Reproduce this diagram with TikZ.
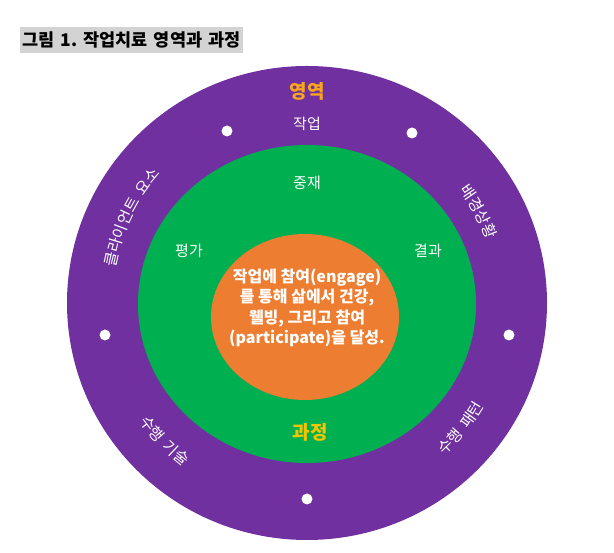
\documentclass[tikz,border=0pt]{standalone}
\usepackage{fontspec}
\setmainfont{Noto Sans CJK KR}
\usetikzlibrary{decorations.text}
\definecolor{ringpurple}{RGB}{112,48,160}
\definecolor{ringgreen}{RGB}{0,176,80}
\definecolor{coreorange}{RGB}{237,125,49}
\definecolor{titlegray}{RGB}{211,211,211}
\definecolor{areayellow}{RGB}{247,166,30}
\definecolor{procyellow}{RGB}{242,197,0}
\tikzset{
  ringlabel/.style={text=white, font=\fontsize{15}{15}\selectfont, inner sep=0pt},
  headlabel/.style={font=\bfseries\fontsize{19}{19}\selectfont, inner sep=0pt},
  whitedot/.style={circle, fill=white, minimum size=11pt, inner sep=0pt},
  arctext/.style={decorate, decoration={text along path, text align=center,
      text={|\fontsize{15.5}{15.5}\selectfont\color{white}|#1}}}
}
\begin{document}
\begin{tikzpicture}[x=1pt,y=1pt]
\useasboundingbox (0,0) rectangle (614,553);
% title
\node[fill=titlegray, anchor=west, inner xsep=2pt, minimum height=26pt,
      font=\bfseries\fontsize{17.5}{17.5}\selectfont] (title) at (20,513)
  {그림\hspace{0.35em}1.\hspace{0.35em}작업치료\hspace{0.35em}영역과\hspace{0.35em}과정};
% circles
\coordinate (c) at (307,250);
\fill[ringpurple] (c) ellipse[x radius=240pt, y radius=237pt];
\fill[ringgreen] (307,249) ellipse[x radius=169pt, y radius=159pt];
\fill[coreorange] (305,236) ellipse[x radius=94pt, y radius=83pt];
% dots
\node[whitedot] (d1) at (227,422) {};
\node[whitedot] (d2) at (412,420) {};
\node[whitedot] (d3) at (105,218) {};
\node[whitedot] (d4) at (509,218) {};
\node[whitedot] (d5) at (307,54) {};
% headings
\node[headlabel, text=areayellow] (area) at (307,462) {영역};
\node[headlabel, text=procyellow] (proc) at (310,121) {과정};
% labels
\node[ringlabel] (occ) at (307,429) {작업};
\node[ringlabel] (interv) at (307,370) {중재};
\node[ringlabel] (eval) at (189,302) {평가};
\node[ringlabel] (outc) at (428,302) {결과};
% center
\node[text=white, align=center, inner sep=0pt,
      font=\bfseries\fontsize{16}{20.5}\selectfont] (core) at (307,245)
  {작업에 참여(engage)\\를 통해 삶에서 건강,\\웰빙, 그리고 참여\\(participate)을 달성.};
% curved ring texts
\path[arctext={클라이언트{\kern0.4em}요소}] (c) ++(178:195pt) arc[start angle=178, end angle=130, radius=195pt];
\path[arctext={배경상황}] (c) ++(48:190pt) arc[start angle=48, end angle=8, radius=190pt];
\path[arctext={수행{\kern0.4em}기술}] (c) ++(200:205pt) arc[start angle=200, end angle=248, radius=205pt];
\path[arctext={수행{\kern0.4em}패턴}] (c) ++(-63:205pt) arc[start angle=-63, end angle=-15, radius=205pt];
\end{tikzpicture}
\end{document}
